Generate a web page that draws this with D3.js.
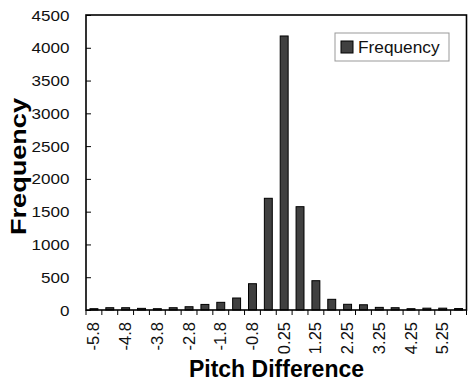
<!DOCTYPE html>
<html><head><meta charset="utf-8">
<script src="https://cdn.jsdelivr.net/npm/d3@7"></script>
<style>body{margin:0;background:#fff}svg{display:block}</style>
</head><body>
<script>
const categories = ["-5.8","-5.3","-4.8","-4.3","-3.8","-3.3","-2.8","-2.3","-1.8","-1.3","-0.8","-0.3","0.25","0.75","1.25","1.75","2.25","2.75","3.25","3.75","4.25","4.75","5.25","5.75"];
const frequency = [20,35,35,25,20,35,50,85,117,183,401,1704,4180,1576,447,163,87,80,40,35,20,28,28,22];
const tickLabels = ["-5.8","-4.8","-3.8","-2.8","-1.8","-0.8","0.25","1.25","2.25","3.25","4.25","5.25"];
const yTicks = [0,500,1000,1500,2000,2500,3000,3500,4000,4500];

const W=474,H=389;
const m={l:86,t:15,r:466.5,b:310};
const svg=d3.select("body").append("svg").attr("width",W).attr("height",H);
const font="Liberation Sans, Arial, sans-serif";
const x=d3.scaleBand().domain(categories).range([m.l,m.r]).paddingInner(0.5).paddingOuter(0.25);
const y=d3.scaleLinear().domain([0,4500]).range([m.b,m.t]);

svg.append("g").selectAll("rect").data(frequency).join("rect")
  .attr("x",(d,i)=>x(categories[i])).attr("width",x.bandwidth())
  .attr("y",d=>y(d)).attr("height",d=>y(0)-y(d))
  .attr("fill","#404040").attr("stroke","#000").attr("stroke-width",1);

// y axis ticks (inside)
const ya=svg.append("g").attr("transform",`translate(${m.l},0)`)
  .call(d3.axisRight(y).tickValues(yTicks).tickSize(5).tickFormat(""));
ya.select(".domain").remove();
ya.selectAll("line").attr("stroke","#000");
svg.append("g").selectAll("text").data(yTicks).join("text")
  .attr("transform",d=>`translate(69.5,${y(d)}) scale(1.1,1)`)
  .attr("dy","0.36em").attr("text-anchor","end")
  .attr("font-family",font).attr("font-size",15.5).attr("fill","#111").text(d=>d);

// x axis ticks at band boundaries
const bounds=d3.range(categories.length+1).map(i=>m.l+i*(m.r-m.l)/categories.length);
svg.append("g").selectAll("line").data(bounds).join("line")
  .attr("x1",d=>d).attr("x2",d=>d).attr("y1",m.b).attr("y2",m.b+5).attr("stroke","#000");

svg.append("g").selectAll("text").data(categories.filter(c=>tickLabels.includes(c))).join("text")
  .attr("transform",d=>`translate(${x(d)+x.bandwidth()/2+5.5},${m.b+12}) rotate(-90)`)
  .attr("text-anchor","end").attr("font-family",font).attr("font-size",16.5).attr("fill","#111").text(d=>d);

// frame
svg.append("rect").attr("x",m.l).attr("y",m.t).attr("width",m.r-m.l).attr("height",m.b-m.t)
  .attr("fill","none").attr("stroke","#000").attr("stroke-width",1.6);

// axis titles
svg.append("text").attr("transform",`translate(26,166.5) rotate(-90)`)
  .attr("text-anchor","middle").attr("font-family",font).attr("font-weight","bold").attr("font-size",22)
  .attr("textLength",137).attr("lengthAdjust","spacingAndGlyphs").text("Frequency");
svg.append("text").attr("x",276.5).attr("y",377)
  .attr("text-anchor","middle").attr("font-family",font).attr("font-weight","bold").attr("font-size",23).text("Pitch Difference");

// legend
const lg=svg.append("g");
lg.append("rect").attr("x",335).attr("y",33).attr("width",114).attr("height",28).attr("fill","#fff").attr("stroke","#999");
lg.append("rect").attr("x",341).attr("y",41).attr("width",12).attr("height",12).attr("fill","#404040").attr("stroke","#000");
lg.append("text").attr("transform","translate(358,53) scale(1.08,1)").attr("font-family",font).attr("font-size",16).attr("fill","#111").text("Frequency");
</script>
</body></html>
